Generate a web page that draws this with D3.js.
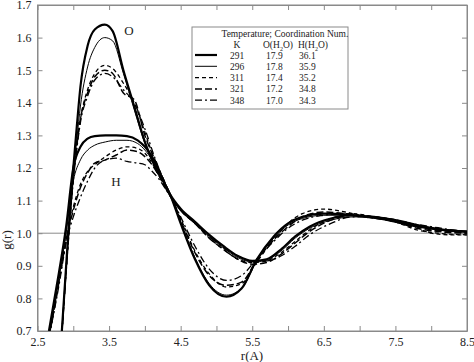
<!DOCTYPE html>
<html><head><meta charset="utf-8">
<script src="https://cdn.jsdelivr.net/npm/d3@7"></script>
<style>body{margin:0;background:#fff}svg{display:block}</style>
</head><body><svg id="c" width="474" height="362"></svg>
<script>
const temps = ["291","296","311","321","348"];
const coordO = ["17.9","17.8","17.4","17.2","17.0"];
const coordH = ["36.1","35.9","35.2","34.8","34.3"];
const xTicks = [2.5,3,3.5,4,4.5,5,5.5,6,6.5,7,7.5,8,8.5];
const xLabels = [2.5,3.5,4.5,5.5,6.5,7.5,8.5];
const yTicks = [0.7,0.8,0.9,1.0,1.1,1.2,1.3,1.4,1.5,1.6,1.7];

const rO = [2.84,2.93,3.0,3.05,3.1,3.2,3.3,3.44,3.55,3.7,3.85,4.0,4.15,4.35,4.5,4.7,4.9,5.14,5.35,5.56,5.8,6.0,6.2,6.5,6.8,7.1,7.4,7.7,8.0,8.3,8.5];
const gO291 = [0.70,1.0,1.2,1.33,1.45,1.575,1.625,1.64,1.62,1.5,1.39,1.28,1.2,1.12,1.03,0.92,0.84,0.805,0.83,0.918,0.99,1.03,1.05,1.06,1.058,1.05,1.04,1.025,1.015,1.008,1.005];
const gO296 = [0.69,0.98,1.18,1.29,1.39,1.51,1.57,1.60,1.59,1.49,1.38,1.275,1.2,1.12,1.035,0.925,0.845,0.81,0.83,0.915,0.985,1.025,1.045,1.055,1.055,1.05,1.04,1.025,1.015,1.008,1.005];
const gO311 = [0.69,0.98,1.17,1.27,1.35,1.44,1.49,1.515,1.505,1.46,1.40,1.31,1.215,1.12,1.045,0.945,0.875,0.835,0.845,0.91,0.98,1.03,1.06,1.074,1.065,1.05,1.045,1.03,1.0,0.995,0.995];
const gO321 = [0.69,0.98,1.17,1.27,1.35,1.43,1.48,1.50,1.49,1.43,1.41,1.30,1.22,1.12,1.04,0.94,0.87,0.84,0.85,0.915,0.98,1.02,1.05,1.065,1.06,1.05,1.04,1.03,1.01,1.005,1.0];
const gO348 = [0.69,0.97,1.16,1.26,1.34,1.42,1.47,1.49,1.48,1.44,1.40,1.32,1.225,1.12,1.05,0.96,0.89,0.855,0.87,0.92,0.975,1.015,1.04,1.055,1.06,1.05,1.04,1.03,1.02,1.01,1.005];

const rH = [2.66,2.8,2.9,3.0,3.1,3.2,3.3,3.45,3.6,3.75,3.9,4.0,4.1,4.2,4.35,4.5,4.7,4.9,5.1,5.3,5.5,5.7,5.9,6.1,6.3,6.6,6.9,7.2,7.5,7.8,8.1,8.5];
const gH291 = [0.70,0.88,1.02,1.2,1.265,1.29,1.298,1.30,1.30,1.298,1.285,1.265,1.235,1.19,1.12,1.075,1.035,0.995,0.96,0.93,0.915,0.92,0.95,0.99,1.02,1.045,1.055,1.05,1.04,1.025,1.012,1.005];
const gH296 = [0.685,0.86,1.0,1.16,1.225,1.255,1.27,1.28,1.285,1.285,1.275,1.255,1.225,1.185,1.12,1.07,1.03,0.99,0.955,0.925,0.912,0.918,0.945,0.985,1.015,1.04,1.05,1.05,1.04,1.025,1.012,1.005];
const gH311 = [0.68,0.85,0.98,1.08,1.15,1.19,1.21,1.235,1.255,1.265,1.26,1.245,1.215,1.175,1.115,1.07,1.03,0.985,0.95,0.92,0.91,0.915,0.94,0.975,1.01,1.045,1.06,1.05,1.035,1.01,1.0,0.995];
const gH321 = [0.68,0.85,0.98,1.07,1.14,1.185,1.215,1.225,1.24,1.255,1.25,1.235,1.21,1.175,1.115,1.07,1.03,0.985,0.95,0.92,0.905,0.91,0.935,0.97,1.005,1.04,1.055,1.05,1.035,1.015,1.005,1.0];
const gH348 = [0.68,0.84,0.97,1.05,1.11,1.16,1.2,1.225,1.23,1.22,1.215,1.21,1.19,1.165,1.115,1.07,1.03,0.99,0.955,0.93,0.915,0.915,0.93,0.96,0.995,1.03,1.05,1.05,1.04,1.025,1.01,1.005];

const gO = [gO291,gO296,gO311,gO321,gO348];
const gH = [gH291,gH296,gH311,gH321,gH348];
const styles = [
  {w:2.2, dash:null},
  {w:1.0, dash:null},
  {w:1.3, dash:"4,3"},
  {w:1.5, dash:"7,3"},
  {w:1.3, dash:"7,3,2,3"}
];

const FONT = '"Liberation Serif","Times New Roman",serif';
const svg = d3.select("#c").attr("font-family",FONT);
const L=37.5, R=467, T=5, B=331;
const x = d3.scaleLinear().domain([2.5,8.5]).range([L,R]);
const y = d3.scaleLinear().domain([0.7,1.7]).range([B,T]);
const axisCol = "#8a8a8a";

svg.append("clipPath").attr("id","clip").append("rect").attr("x",L).attr("y",T).attr("width",R-L).attr("height",B-T);

svg.append("line").attr("x1",L).attr("x2",R).attr("y1",y(1.0)).attr("y2",y(1.0)).attr("stroke",axisCol).attr("stroke-width",1);

const fmtX = d => xLabels.includes(d) ? d3.format(".1f")(d) : "";
const gx = svg.append("g").attr("transform",`translate(0,${B})`)
  .call(d3.axisBottom(x).tickValues(xTicks).tickSizeInner(-5).tickSizeOuter(0).tickPadding(6).tickFormat(fmtX));
const gxt = svg.append("g").attr("transform",`translate(0,${T})`)
  .call(d3.axisTop(x).tickValues(xTicks).tickSizeInner(-5).tickSizeOuter(0).tickFormat(""));
const gy = svg.append("g").attr("transform",`translate(${L},0)`)
  .call(d3.axisLeft(y).tickValues(yTicks).tickSizeInner(-5).tickSizeOuter(0).tickPadding(6).tickFormat(d3.format(".1f")));
const gyr = svg.append("g").attr("transform",`translate(${R},0)`)
  .call(d3.axisRight(y).tickValues(yTicks).tickSizeInner(-5).tickSizeOuter(0).tickFormat(""));
[gx,gxt,gy,gyr].forEach(g=>{
  g.attr("font-family",FONT).attr("font-size",12);
  g.selectAll("path").attr("stroke",axisCol);
  g.selectAll("line").attr("stroke",axisCol);
  g.selectAll("text").attr("fill","#222");
});
svg.append("rect").attr("x",L).attr("y",T).attr("width",R-L).attr("height",B-T).attr("fill","none").attr("stroke",axisCol).attr("stroke-width",1);

const line = d3.line().x(d=>x(d[0])).y(d=>y(d[1])).curve(d3.curveMonotoneX);
const plot = svg.append("g").attr("clip-path","url(#clip)");
function drawFamily(rs, gs){
  gs.forEach((g,i)=>{
    const pts = rs.map((r,k)=>[r,g[k]]);
    plot.append("path").datum(pts).attr("d",line).attr("fill","none").attr("stroke","#000")
      .attr("stroke-width",styles[i].w).attr("stroke-dasharray",styles[i].dash);
  });
}
drawFamily(rH,gH);
drawFamily(rO,gO);

function txt(g,xx,yy,s,size,anchor){
  return g.append("text").attr("x",xx).attr("y",yy).attr("text-anchor",anchor||"start")
    .attr("font-family",FONT).attr("font-size",size).attr("fill","#222").text(s);
}
txt(svg,129,35,"O",13,"middle");
txt(svg,116,186,"H",13,"middle");
txt(svg,252,360,"r(A)",13,"middle");
svg.append("text").attr("transform","translate(11,240) rotate(-90)").attr("text-anchor","middle")
  .attr("font-family",FONT).attr("font-size",13).attr("fill","#222").text("g(r)");

const LF = 9.5;
const lg = svg.append("g");
lg.append("rect").attr("x",192).attr("y",27).attr("width",156).attr("height",82).attr("fill","#fff").attr("stroke",axisCol).attr("stroke-width",1);
txt(lg,221.5,37,"Temperature; Coordination Num.",LF);
txt(lg,237,48,"K",LF,"middle");
function h2o(xx, pre){
  const t = lg.append("text").attr("x",xx).attr("y",48).attr("font-family",FONT).attr("font-size",LF).attr("fill","#222");
  t.append("tspan").text(pre+"(H");
  t.append("tspan").attr("dy",2.5).attr("font-size",6).text("2");
  t.append("tspan").attr("dy",-2.5).text("O)");
}
h2o(263,"O");
h2o(298,"H");
temps.forEach((t,i)=>{
  const yy = 58.5 + i*11.3;
  lg.append("line").attr("x1",195).attr("x2",217).attr("y1",yy-3.5).attr("y2",yy-3.5)
    .attr("stroke","#000").attr("stroke-width",styles[i].w).attr("stroke-dasharray",styles[i].dash);
  txt(lg,237,yy,t,LF,"middle");
  txt(lg,266,yy,coordO[i],LF);
  txt(lg,299,yy,coordH[i],LF);
});
</script></body></html>
